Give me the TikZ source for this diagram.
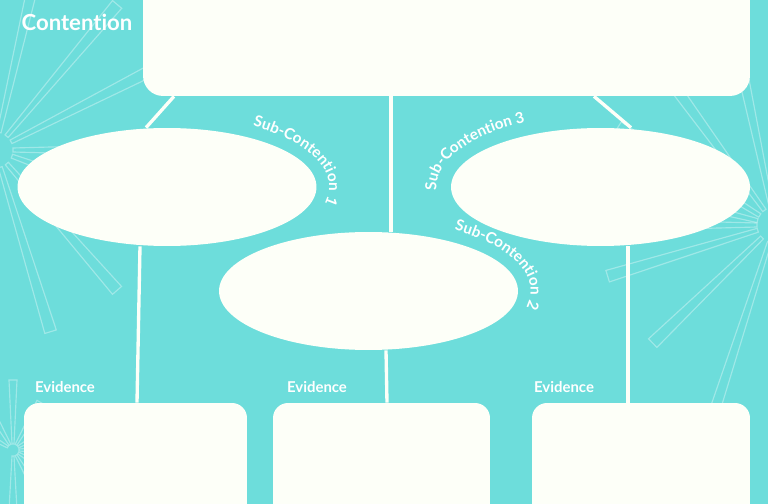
\documentclass[tikz,border=0pt]{standalone}
\usepackage{fontspec}
\setmainfont{Lato}[Ligatures=NoCommon]
\usetikzlibrary{shapes.geometric,decorations.text}
\definecolor{bgteal}{HTML}{6DDDDB}
\definecolor{paper}{HTML}{FDFFF8}

\begin{document}
\begin{tikzpicture}[
			x=0.02cm, y=0.02cm,
			card/.style={rectangle,fill=paper,rounded corners=0.3cm,inner sep=0pt},
			bubble/.style={ellipse,fill=paper,inner sep=0pt,
			minimum width=5.98cm,minimum height=2.36cm},
			link/.style={draw=paper, line width=1.9pt},
			ray/.style={draw=white, draw opacity=0.35, line width=0.65pt},
			tag/.style={text=white, inner sep=0pt, font=\bfseries\fontsize{8.5}{10}\selectfont},
			arclabel/.style={decorate, decoration={text along path, text color=white,
			text={|\bfseries\fontsize{8.7}{10}\selectfont|#1}}}
			]
			\fill[bgteal] (0,0) rectangle (768,504);
			\clip (0,0) rectangle (768,504);
			% faint bursts
			\begin{scope}[shift={(-5,354)}]
				\foreach \a/\l in {77/200, 50/190, 27/180, 0/170, -20/160, -49/186, -73/190}
					\draw[ray, rotate=\a] (18,-2) -- (\l,-6) -- (\l,6) -- (18,2) -- cycle;
			\end{scope}
			\begin{scope}[shift={(775,279)}]
				\foreach \a/\l in {102/200, 126/190, 148/185, 166/170, 180/170, 197/175, 224/170, 252/240}
					\draw[ray, rotate=\a] (18,-2) -- (\l,-6) -- (\l,6) -- (18,2) -- cycle;
			\end{scope}
			\begin{scope}[shift={(13,54)}]
				\foreach \a/\l in {90/70, 60/55, 30/45, 0/50, -30/45, -60/55, -90/60, 120/50, 150/45}
					\draw[ray, rotate=\a] (6,-1) -- (\l,-4) -- (\l,4) -- (6,1) -- cycle;
			\end{scope}
			% boxes
			\node[card, minimum width=12.14cm, minimum height=3cm, rounded corners=0.4cm] (cont) at (446.5,483) {};
			\node[bubble] (sub1) at (167,317) {};
			\node[bubble] (sub3) at (600.5,317) {};
			\node[bubble] (sub2) at (368.5,213) {};
			\node[card, minimum width=4.46cm, minimum height=2.6cm] (ev1) at (135.5,36) {};
			\node[card, minimum width=4.34cm, minimum height=2.6cm] (ev2) at (381.5,36) {};
			\node[card, minimum width=4.36cm, minimum height=2.6cm] (ev3) at (641,36) {};
			% links
			\draw[link] (cont.south -| 174,0) -- (sub1.north -| 146,0);
			\draw[link] (cont.south -| 391,0) -- (sub2.north -| 391,0);
			\draw[link] (cont.south -| 594,0) -- (sub3.north -| 631,0);
			\draw[link] (sub1.south -| 140,0) -- (ev1.north -| 137,0);
			\draw[link] (sub2.south -| 386,0) -- (ev2.north -| 387,0);
			\draw[link] (sub3.south -| 628,0) -- (ev3.north -| 628,0);
			% labels
			\node[tag, font=\bfseries\fontsize{12.6}{14}\selectfont] (title) at (77,482) {Contention};
			\node[tag] (evtag1) at (65,117) {Evidence};
			\node[tag] (evtag2) at (317,117) {Evidence};
			\node[tag] (evtag3) at (564,117) {Evidence};
			\path[arclabel={Sub-Contention 1}] ([shift={(58:162 and 72)}]sub1.center)
				arc[start angle=58, end angle=-40, x radius=162, y radius=72];
			\path[arclabel={Sub-Contention 2}] ([shift={(58:162 and 72)}]sub2.center)
				arc[start angle=58, end angle=-40, x radius=162, y radius=72];
			\path[arclabel={Sub-Contention 3}] ([shift={(183:164 and 73)}]sub3.center)
				arc[start angle=183, end angle=90, x radius=164, y radius=73];
		\end{tikzpicture}
\end{document}
